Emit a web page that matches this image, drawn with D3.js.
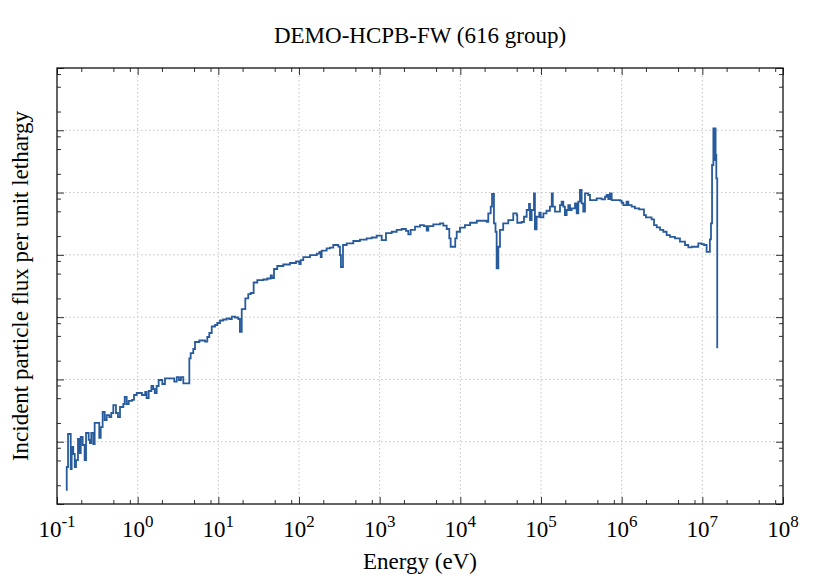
<!DOCTYPE html>
<html>
<head>
<meta charset="utf-8">
<script src="https://cdn.jsdelivr.net/npm/d3@7"></script>
<style>
  body { margin: 0; background: #fff; }
  text { font-family: "Liberation Serif", "Times New Roman", serif; fill: #000; }
</style>
</head>
<body>
<svg id="chart" width="825" height="578"></svg>
<script>
// group lower energy edge (eV) and flux per unit lethargy (arb. units)
const energy = [
  0.129, 0.132, 0.137, 0.148, 0.152, 0.159, 0.166, 0.172, 0.182, 0.189,
  0.197, 0.208, 0.220, 0.229, 0.247, 0.256, 0.266, 0.282, 0.293, 0.334,
  0.348, 0.368, 0.390, 0.413, 0.445, 0.471, 0.499, 0.538, 0.570, 0.604,
  0.664, 0.690, 0.731, 0.774, 0.851, 0.901, 0.973, 1.13, 1.24, 1.29,
  1.37, 1.48, 1.56, 1.63, 1.72, 1.82, 2.02, 2.18, 2.84, 3.05,
  3.25, 3.44, 3.68, 4.37, 4.54, 4.89, 5.14, 5.81, 6.84, 7.30,
  7.73, 8.28, 9.10, 9.71, 10.5, 11.5, 12.7, 13.7, 14.7, 16.1,
  17.7, 18.5, 19.5, 21.6, 23.5, 25.2, 27.4, 30.4, 36.1, 40.5,
  44.6, 46.2, 49.0, 53.8, 63.8, 77.3, 91.8, 101, 105, 113,
  137, 166, 179, 186, 191, 220, 242, 266, 307, 322,
  331, 351, 390, 471, 570, 690, 796, 918, 1060, 1197,
  1409, 1626, 1875, 2118, 2265, 2421, 2742, 3162, 3540, 3828,
  4009, 4624, 5598, 6152, 6776, 7296, 7586, 8650, 9016, 9908,
  1.14e4, 1.32e4, 1.60e4, 2.12e4, 2.22e4, 2.38e4, 2.47e4, 2.61e4, 2.73e4, 2.82e4,
  2.96e4, 3.10e4, 3.40e4, 3.93e4, 4.53e4, 5.00e4, 5.08e4, 5.75e4, 6.15e4, 6.64e4,
  7.10e4, 7.30e4, 7.66e4, 8.18e4, 8.41e4, 8.83e4, 9.52e4, 9.91e4, 1.07e5, 1.17e5,
  1.29e5, 1.36e5, 1.40e5, 1.49e5, 1.72e5, 1.80e5, 1.89e5, 1.98e5, 2.08e5, 2.18e5,
  2.29e5, 2.40e5, 2.64e5, 2.77e5, 2.90e5, 3.04e5, 3.19e5, 3.34e5, 3.51e5, 3.85e5,
  4.05e5, 4.90e5, 5.65e5, 6.21e5, 6.52e5, 6.83e5, 7.16e5, 7.52e5, 9.53e5, 1.00e6,
  1.05e6, 1.15e6, 1.21e6, 1.33e6, 1.46e6, 1.65e6, 1.89e6, 2.00e6, 2.35e6, 2.52e6,
  2.72e6, 2.99e6, 3.28e6, 3.61e6, 3.97e6, 4.58e6, 5.28e6, 6.10e6, 6.70e6, 7.38e6,
  8.91e6, 9.82e6, 1.05e7, 1.13e7, 1.24e7, 1.28e7, 1.32e7, 1.37e7, 1.41e7, 1.44e7,
  1.46e7, 1.49e7, 1.53e7
];

const flux = [
  1.68e7, 3.93e7, 1.33e8, 3.65e7, 8.23e7, 6.35e7, 3.93e7, 5.08e7, 1.11e8, 6.59e7,
  1.19e8, 8.85e7, 5.08e7, 1.38e8, 1.07e8, 9.53e7, 1.38e8, 9.19e7, 2.0e8, 1.15e8,
  1.72e8, 3.0e8, 2.23e8, 2.68e8, 2.49e8, 2.89e8, 3.88e8, 2.89e8, 2.49e8, 3.61e8,
  4.03e8, 5.22e8, 4.03e8, 4.51e8, 4.68e8, 5.62e8, 6.05e8, 5.62e8, 6.28e8, 5.03e8,
  6.52e8, 7.84e8, 7.02e8, 6.05e8, 7.84e8, 9.79e8, 8.44e8, 1.04e9, 9.19e8, 1.09e9,
  9.79e8, 1.09e9, 8.67e8, 2.18e9, 2.65e9, 3.08e9, 3.99e9, 4.22e9, 4.06e9, 4.80e9,
  5.56e9, 7.08e9, 7.48e9, 8.05e9, 8.83e9, 9.16e9, 9.58e9, 9.33e9, 1.02e10, 9.86e9,
  9.33e9, 5.83e9, 1.35e10, 2.0e10, 2.35e10, 2.44e10, 3.60e10, 3.94e10, 4.02e10, 4.17e10,
  4.66e10, 4.25e10, 5.93e10, 6.62e10, 7.00e10, 7.40e10, 7.82e10, 7.13e10, 8.26e10, 9.23e10,
  9.93e10, 1.05e11, 1.12e11, 9.23e10, 1.17e11, 1.27e11, 1.31e11, 1.44e11, 1.36e11, 9.93e10,
  6.38e10, 1.44e11, 1.53e11, 1.67e11, 1.76e11, 1.84e11, 1.90e11, 2.03e11, 1.73e11, 2.24e11,
  2.35e11, 2.51e11, 2.60e11, 2.42e11, 2.14e11, 2.51e11, 2.83e11, 3.01e11, 2.90e11, 2.46e11,
  2.90e11, 3.09e11, 3.21e11, 2.94e11, 2.60e11, 1.84e11, 1.35e11, 1.84e11, 2.35e11, 2.73e11,
  3.01e11, 3.28e11, 3.53e11, 3.40e11, 4.65e11, 5.93e11, 9.48e11, 3.21e11, 2.35e11, 6.08e10,
  1.35e11, 2.51e11, 3.21e11, 3.62e11, 4.65e11, 4.36e11, 3.28e11, 3.37e11, 4.09e11, 5.25e11,
  6.55e11, 3.62e11, 5.25e11, 9.72e11, 2.57e11, 4.09e11, 4.75e11, 4.01e11, 4.65e11, 5.11e11,
  5.93e11, 9.72e11, 5.93e11, 4.93e11, 6.31e11, 7.13e11, 5.93e11, 4.36e11, 5.25e11, 6.31e11,
  5.25e11, 5.58e11, 6.71e11, 4.65e11, 7.13e11, 1.10e12, 6.71e11, 4.93e11, 9.72e11, 9.14e11,
  7.59e11, 8.09e11, 7.80e11, 8.57e11, 9.14e11, 7.87e11, 9.72e11, 7.59e11, 7.45e11, 6.87e11,
  6.31e11, 7.13e11, 6.31e11, 5.93e11, 5.58e11, 5.38e11, 4.36e11, 4.01e11, 3.72e11, 3.01e11,
  2.77e11, 2.51e11, 2.35e11, 2.08e11, 1.95e11, 1.84e11, 1.63e11, 1.44e11, 1.32e11, 1.35e11,
  1.53e11, 1.49e11, 1.44e11, 1.12e11, 1.77e11, 3.21e11, 2.77e12, 1.07e13, 3.33e12, 1.07e13,
  4.01e12, 1.69e12, 3.16e9
];

const xDecades = [-1, 0, 1, 2, 3, 4, 5, 6, 7, 8];
const yDecades = [7, 8, 9, 10, 11, 12, 13, 14];
const minorMults = [2, 5, 8];

const titleText = "DEMO-HCPB-FW (616 group)";
const xLabel = "Energy (eV)";
const yLabel = "Incident particle flux per unit lethargy";

document.addEventListener('DOMContentLoaded', function() {
  drawChart();
});

function drawChart() {
  const margin = { top: 68, left: 57, right: 42, bottom: 74 };
  const width = 825 - margin.left - margin.right;
  const height = 578 - margin.top - margin.bottom;

  const svg = d3.select('#chart');
  const g = svg.append('g')
    .attr('transform', `translate(${margin.left}, ${margin.top})`);

  const xScale = d3.scaleLog()
    .domain([Math.pow(10, xDecades[0]), Math.pow(10, xDecades[xDecades.length - 1])])
    .range([0, width]);

  const yScale = d3.scaleLog()
    .domain([Math.pow(10, yDecades[0]), Math.pow(10, yDecades[yDecades.length - 1])])
    .range([height, 0]);

  const xMajor = xDecades.map(d => Math.pow(10, d));
  const yMajor = yDecades.map(d => Math.pow(10, d));
  const xMinor = [];
  xDecades.slice(0, -1).forEach(d => minorMults.forEach(m => xMinor.push(m * Math.pow(10, d))));
  const yMinor = [];
  yDecades.slice(0, -1).forEach(d => minorMults.forEach(m => yMinor.push(m * Math.pow(10, d))));

  // dotted grid on the inner decades
  g.append('g').selectAll('line')
    .data(xMajor.slice(1, -1))
    .enter().append('line')
    .attr('x1', d => xScale(d)).attr('x2', d => xScale(d))
    .attr('y1', 0).attr('y2', height)
    .attr('stroke', '#c4c4c4').attr('stroke-width', 1)
    .attr('stroke-dasharray', '1.5,2.5');

  g.append('g').selectAll('line')
    .data(yMajor.slice(1, -1))
    .enter().append('line')
    .attr('y1', d => yScale(d)).attr('y2', d => yScale(d))
    .attr('x1', 0).attr('x2', width)
    .attr('stroke', '#c4c4c4').attr('stroke-width', 1)
    .attr('stroke-dasharray', '1.5,2.5');

  // ticks pointing inwards on all four sides
  function tickAxis(axis, values, size, transform) {
    const a = g.append('g')
      .attr('transform', transform)
      .call(axis.tickValues(values).tickSize(size).tickFormat(''));
    a.select('.domain').remove();
    a.selectAll('.tick line').attr('stroke', '#333').attr('stroke-width', 1);
  }
  tickAxis(d3.axisBottom(xScale), xMajor, -7, `translate(0, ${height})`);
  tickAxis(d3.axisBottom(xScale), xMinor, -4, `translate(0, ${height})`);
  tickAxis(d3.axisTop(xScale), xMajor, -7, 'translate(0, 0)');
  tickAxis(d3.axisTop(xScale), xMinor, -4, 'translate(0, 0)');
  tickAxis(d3.axisLeft(yScale), yMajor, -7, 'translate(0, 0)');
  tickAxis(d3.axisLeft(yScale), yMinor, -4, 'translate(0, 0)');
  tickAxis(d3.axisRight(yScale), yMajor, -7, `translate(${width}, 0)`);
  tickAxis(d3.axisRight(yScale), yMinor, -4, `translate(${width}, 0)`);

  // spectrum as a histogram step line
  const line = d3.line()
    .x(d => xScale(d[0]))
    .y(d => yScale(d[1]))
    .curve(d3.curveStepAfter);

  g.append('path')
    .datum(d3.zip(energy, flux))
    .attr('d', line)
    .attr('fill', 'none')
    .attr('stroke', '#285b9c')
    .attr('stroke-width', 1.8);

  // frame
  g.append('rect')
    .attr('width', width).attr('height', height)
    .attr('fill', 'none')
    .attr('stroke', '#111')
    .attr('stroke-width', 1.3);

  // x tick labels 10^n
  const labels = g.append('g').selectAll('text')
    .data(xDecades)
    .enter().append('text')
    .attr('x', d => xScale(Math.pow(10, d)))
    .attr('y', height + 33)
    .attr('text-anchor', 'middle')
    .style('font-size', '23px');
  labels.append('tspan').text('10');
  labels.append('tspan')
    .attr('dy', -10)
    .style('font-size', '17px')
    .text(d => d);

  svg.append('text')
    .attr('x', margin.left + width / 2)
    .attr('y', 43)
    .attr('text-anchor', 'middle')
    .style('font-size', '23px')
    .text(titleText);

  svg.append('text')
    .attr('x', margin.left + width / 2)
    .attr('y', 569)
    .attr('text-anchor', 'middle')
    .style('font-size', '23px')
    .text(xLabel);

  svg.append('text')
    .attr('transform', `translate(28, ${margin.top + height / 2}) rotate(-90)`)
    .attr('text-anchor', 'middle')
    .style('font-size', '23px')
    .text(yLabel);
}
</script>
</body>
</html>
